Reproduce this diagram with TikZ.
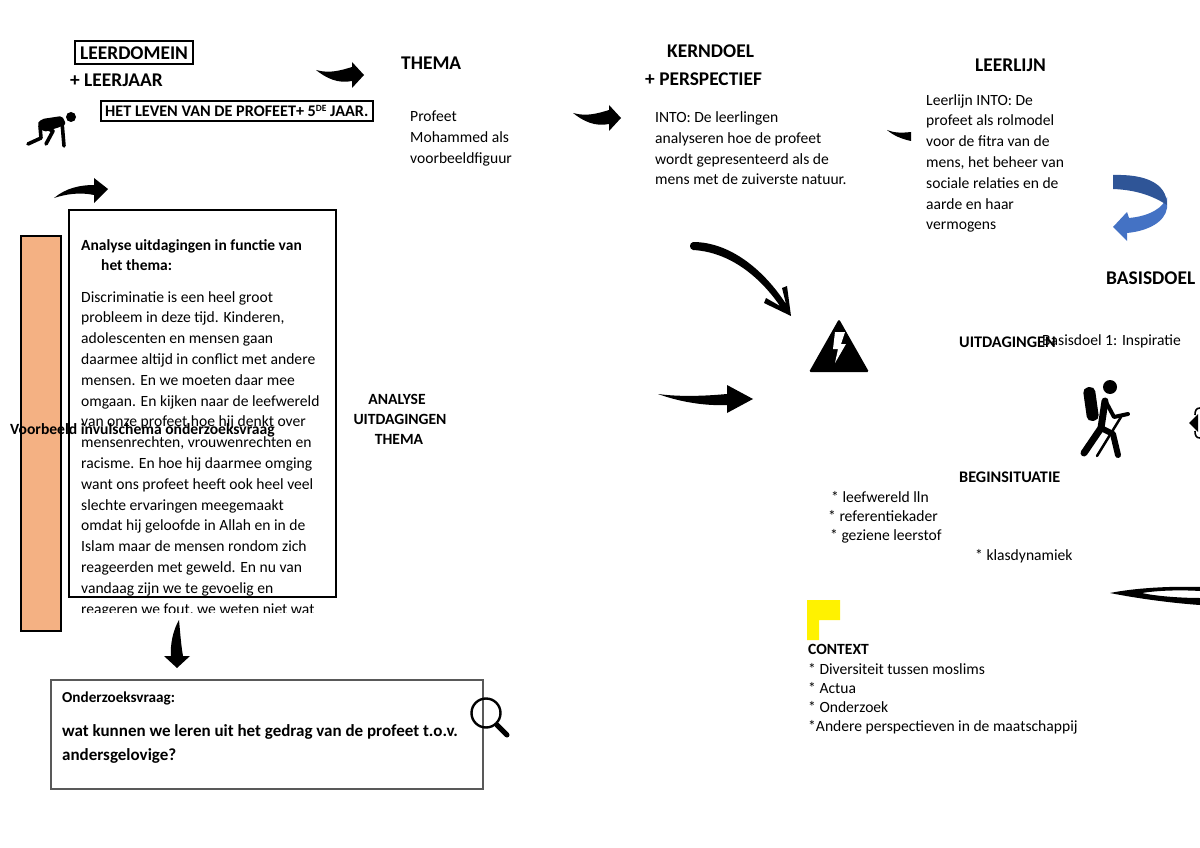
\documentclass[tikz,border=0pt]{standalone}
\usepackage{fontspec}
\setmainfont{Carlito}
\usepackage{tikz}
\usetikzlibrary{arrows.meta, positioning, calc}
\definecolor{cbar}{HTML}{F4B183}
\definecolor{cblue}{HTML}{4472C4}
\definecolor{cbluedark}{HTML}{2F5597}
\definecolor{cframe}{HTML}{595959}
\begin{document}
\begin{tikzpicture}[
    x=1pt, y=-1pt,
    txt/.style={anchor=north west, align=left, inner sep=0pt,
                font=\fontsize{15.6}{20.8}\selectfont},
    txtb/.style={txt, font=\fontsize{15.5}{20.8}\selectfont\bfseries},
    head/.style={anchor=base west, inner sep=0pt,
                 font=\fontsize{19.4}{20}\selectfont\bfseries},
    sub/.style={anchor=base west, inner sep=0pt,
                font=\fontsize{16.2}{20}\selectfont\bfseries},
    subc/.style={anchor=base, inner sep=0pt,
                font=\fontsize{15.6}{20}\selectfont\bfseries},
    blob/.style={fill=black, draw=none},
]
\useasboundingbox (0,0) rectangle (1200,848);

% ---- Left column: orange bar and text frame ----
\draw[fill=cbar, line width=1.5pt] (21,236) rectangle (61,631);
\draw[line width=1.5pt] (69,210) rectangle (336,597);
\begin{scope}
  \clip (60,215) rectangle (345,612);
  \node[txtb] (analyse) at (81,239) {Analyse uitdagingen in functie van\\
    \hspace*{20pt}het thema:};
  \node[txt] (analysetext) at (81,291) {Discriminatie is een heel groot\\
    probleem in deze tijd. Kinderen,\\
    adolescenten en mensen gaan\\
    daarmee altijd in conflict met andere\\
    mensen. En we moeten daar mee\\
    omgaan. En kijken naar de leefwereld\\
    van onze profeet hoe hij denkt over\\
    mensenrechten, vrouwenrechten en\\
    racisme. En hoe hij daarmee omging\\
    want ons profeet heeft ook heel veel\\
    slechte ervaringen meegemaakt\\
    omdat hij geloofde in Allah en in de\\
    Islam maar de mensen rondom zich\\
    reageerden met geweld. En nu van\\
    vandaag zijn we te gevoelig en\\
    reageren we fout, we weten niet wat};
\end{scope}
\node[sub, font=\fontsize{15.6}{20}\selectfont\bfseries] (voorbeeld) at (10,434) {Voorbeeld invulschema onderzoeksvraag};

% ---- Top row: headings and texts ----
\draw[line width=1.2pt] (75,41) rectangle (193,64);
\node[head] (leerdomein) at (80,60) {LEERDOMEIN};
\node[head] (leerjaar) at (70,87) {+ LEERJAAR};
\draw[line width=1.2pt] (101,101) rectangle (373,121);
\node[sub] (leven) at (105,117)
    {HET LEVEN VAN DE PROFEET+ 5\raisebox{5pt}{\fontsize{9.5}{9.5}\selectfont DE} JAAR.};
\node[head] (thema) at (401,70) {THEMA};
\node[txt] (profeet) at (410,111) {Profeet\\Mohammed als\\voorbeeldfiguur};
\node[head] (kerndoel) at (667,58) {KERNDOEL};
\node[head] (perspectief) at (645,86) {+ PERSPECTIEF};
\node[txt] (into) at (655,111.5) {INTO: De leerlingen\\analyseren hoe de profeet\\wordt gepresenteerd als de\\mens met de zuiverste natuur.};
\node[head] (leerlijn) at (975,72) {LEERLIJN};
\node[txt] (leerlijntext) at (926,94) {Leerlijn INTO: De\\profeet als rolmodel\\voor de fitra van de\\mens, het beheer van\\sociale relaties en de\\aarde en haar\\vermogens};
\node[head] (basisdoel) at (1106,284) {BASISDOEL};

% ---- Middle: analysis label, challenges, starting situation ----
\node[subc] (ana1) at (397,404) {ANALYSE};
\node[subc] (ana2) at (400,424) {UITDAGINGEN};
\node[subc] (ana3) at (399,444) {THEMA};
\node[sub] (uitdagingen) at (959,347) {UITDAGINGEN};
\node[txt] (inspiratie) at (1042,334) {Basisdoel 1: Inspiratie};
\node[sub] (beginsituatie) at (959,482) {BEGINSITUATIE};
\node[txt] (lln) at (831,491) {* leefwereld lln};
\node[txt] (kader) at (828,510) {* referentiekader};
\node[txt] (leerstof) at (830,529) {* geziene leerstof};
\node[txt] (klas) at (975,549) {* klasdynamiek};

% ---- Context ----
\fill[yellow] (807,600) -- (840,600) -- (840,620) -- (819,620) -- (819,640) -- (807,640) -- cycle;
\node[txtb, font=\fontsize{15.6}{19.2}\selectfont\bfseries] (context) at (808,644) {CONTEXT};
\node[txt, font=\fontsize{15.6}{19.2}\selectfont] (contextlist) at (808,663) {* Diversiteit tussen moslims\\* Actua\\* Onderzoek\\*Andere perspectieven in de maatschappij};

% ---- Research question ----
\draw[cframe, line width=1.2pt] (51,680) rectangle (483,789);
\node[sub, font=\fontsize{15.2}{20}\selectfont\bfseries] (vraag) at (62,702) {Onderzoeksvraag:};
\node[txtb, font=\fontsize{17}{24}\selectfont\bfseries] (vraagtext) at (62,724) {wat kunnen we leren uit het gedrag van de profeet t.o.v.\\andersgelovige?};

% ---- Arrows ----
\fill[blob] (316,70) .. controls (330,74) and (342,70) .. (352,67) -- (352,62) -- (364,75) -- (352,88) -- (352,81) .. controls (338,84) and (326,78) .. cycle;
\fill[blob] (573,113) .. controls (587,117) and (599,113) .. (609,110) -- (609,105) -- (621,118) -- (609,131) -- (609,124) .. controls (595,127) and (583,121) .. cycle;
\fill[blob] (54,198) .. controls (66,188) and (80,185) .. (94,185) -- (94,178) -- (108,189) -- (94,203) -- (94,195) .. controls (80,192) and (66,194) .. cycle;
\fill[blob] (887,130) .. controls (894,133) and (902,133) .. (911,132) -- (911,141) .. controls (902,139) and (894,136) .. cycle;
\fill[blob] (658,394) .. controls (680,397) and (705,396) .. (727,394) -- (727,385) -- (753,399) -- (727,413) -- (727,405) .. controls (705,406) and (680,402) .. cycle;
\fill[blob] (179,620) .. controls (173,630) and (170,645) .. (171,656) -- (164,656) -- (177,668) -- (190,656) -- (183,656) .. controls (181,645) and (180,630) .. cycle;
\fill[blob] (693,242) .. controls (730,242) and (764,270) .. (786,304) -- (782,288) -- (787,286) -- (791,316) -- (764,303) -- (766,298) -- (780,306) .. controls (760,277) and (730,252) .. (693,250) .. controls (689,249) and (689,243) .. (693,242) -- cycle;
\fill[blob, even odd rule] (1110,593) .. controls (1135,588) and (1170,586) .. (1200,587) -- (1200,605) .. controls (1170,603) and (1135,598) .. cycle
    (1142,593) .. controls (1160,590) and (1185,590) .. (1200,591) -- (1200,598) .. controls (1180,598) and (1155,596) .. cycle;

% ---- Blue curved arrow ----
\fill[cblue] (1113,227) -- (1127,212) -- (1129,218) .. controls (1150,216) and (1163,208) .. (1167,197) -- (1167,208) .. controls (1165,222) and (1148,231) .. (1127,233) -- (1127,241) -- cycle;
\fill[cbluedark] (1113,175) .. controls (1145,174) and (1167,183) .. (1167,205) .. controls (1156,198) and (1140,190) .. (1113,189) -- cycle;

% ---- Icons ----
% runner
\fill (71,117) circle (5);
\fill[rounded corners=2pt] (37,124) -- (42,119) -- (62,116) -- (66,124) -- (60,127) -- (44,132) -- cycle;
\draw[line width=3.6pt, line cap=round, line join=round] (28,144) -- (41,138) -- (40,126);
\draw[line width=3.6pt, line cap=round, line join=round] (46,128) -- (53,131) -- (46,144);
\draw[line width=3.6pt, line cap=round, line join=round] (62,122) -- (64,146);
% warning triangle
\fill[rounded corners=1.5pt] (839,319) -- (869,372) -- (809,372) -- cycle;
\fill[white] (835,332) -- (845,332) -- (841,344) -- (846,344) -- (835,363) -- (838,349) -- (833,349) -- cycle;
% hiker
\fill (1110,387) circle (7);
\fill[rounded corners=5pt, rotate around={8:(1091,404)}] (1085,387) rectangle (1097,421);
\draw[line width=7pt, line cap=round, line join=round] (1105,401) -- (1101,428) -- (1084,453);
\draw[line width=6pt, line cap=round, line join=round] (1101,428) -- (1113,434) -- (1118,455);
\draw[line width=4pt, line cap=round, line join=round] (1106,402) -- (1114,417) -- (1128,414);
\draw[line width=2.5pt, line cap=round] (1121,417) -- (1097,456);
% magnifier
\draw[line width=2.4pt] (486,713) circle (14.5);
\draw[line width=5pt, line cap=round] (497,725) -- (507,735);
% cut-off icon at the right edge
\fill (1189,423) -- (1198,414) -- (1198,432) -- cycle;
\draw[line width=1.6pt] (1200,408) .. controls (1196,408) and (1195,411) .. (1195,415);
\draw[line width=1.6pt] (1195,431) .. controls (1195,435) and (1196,438) .. (1200,438);
\end{tikzpicture}
\end{document}
